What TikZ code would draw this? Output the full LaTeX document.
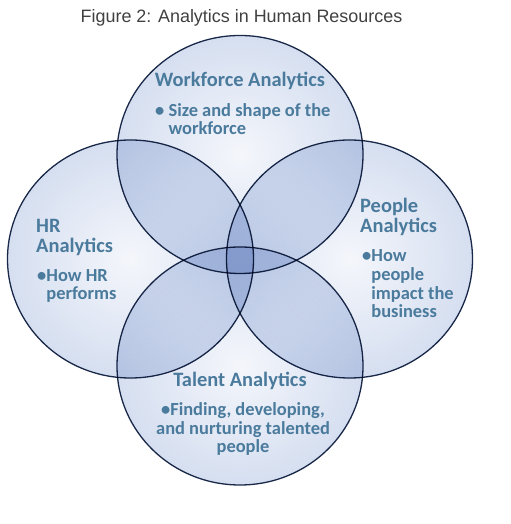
\documentclass[tikz,border=0pt]{standalone}
\usepackage{fontspec}
\setmainfont{Carlito}
\newfontfamily\titlefont{Liberation Sans}
\usetikzlibrary{shapes.geometric}
\definecolor{textblue}{HTML}{4A7A9C}
\definecolor{rimnavy}{HTML}{1C2C4C}
\definecolor{titlegray}{HTML}{404040}
\definecolor{bubblecore}{HTML}{F4F6FB}
\definecolor{bubblein}{HTML}{D2DCEF}
\definecolor{bubblemid}{HTML}{B3C4E4}
\definecolor{bubbleedge}{HTML}{89A3D4}
\definecolor{bubblerim}{HTML}{718CC4}
\pgfdeclareradialshading{bubbleshade}{\pgfpoint{0bp}{0bp}}{color(0bp)=(bubblecore); color(28bp)=(bubblein); color(40bp)=(bubblemid); color(47bp)=(bubbleedge); color(50bp)=(bubblerim)}

\begin{document}
\begin{tikzpicture}[x=1bp, y=1bp,
  bubble/.style={ellipse, shade, shading=bubbleshade, draw=rimnavy, line width=1.3bp, minimum width=246bp, minimum height=238bp, inner sep=0pt},
  head/.style={font=\fontsize{20.5}{21}\selectfont\bfseries, text=textblue, inner sep=0pt},
  body/.style={font=\fontsize{18.5}{19}\selectfont\bfseries, text=textblue, inner sep=0pt}]
  \useasboundingbox (0,0) rectangle (511,524);
  \node[font=\titlefont\fontsize{18}{21}\selectfont, text=titlegray, inner sep=0pt, anchor=base] (title) at (241.5,501) {Figure 2: Analytics in Human Resources};

  % the four bubbles
  \begin{scope}[blend group=multiply]
    \node[bubble] (workforce) at (240,369.5) {};
    \node[bubble] (hr) at (130.5,265) {};
    \node[bubble] (people) at (349.5,265) {};
    \node[bubble] (talent) at (240,158) {};
  \end{scope}

  % labels (base = last line)
  \node[head, anchor=base] (wfhead) at (240,437) {Workforce Analytics};
  \node[body, anchor=base west, align=left] (wfbody) at (155,389) {• Size and shape of the\\\phantom{• }workforce};
  \node[head, anchor=base west, align=left] (hrhead) at (36,271) {HR\\Analytics};
  \node[body, anchor=base west, align=left] (hrbody) at (37,224) {•How HR\\\phantom{•}performs};
  \node[head, anchor=base west, align=left] (pphead) at (360,291) {People\\Analytics};
  \node[body, anchor=base west, align=left] (ppbody) at (362,206) {•How\\\phantom{•}people\\\phantom{•}impact the\\\phantom{•}business};
  \node[head, anchor=base] (tlhead) at (240,137) {Talent Analytics};
  \node[body, anchor=base, align=center] (tlbody) at (243,71) {•Finding, developing,\\and nurturing talented\\people};
\end{tikzpicture}
\end{document}
